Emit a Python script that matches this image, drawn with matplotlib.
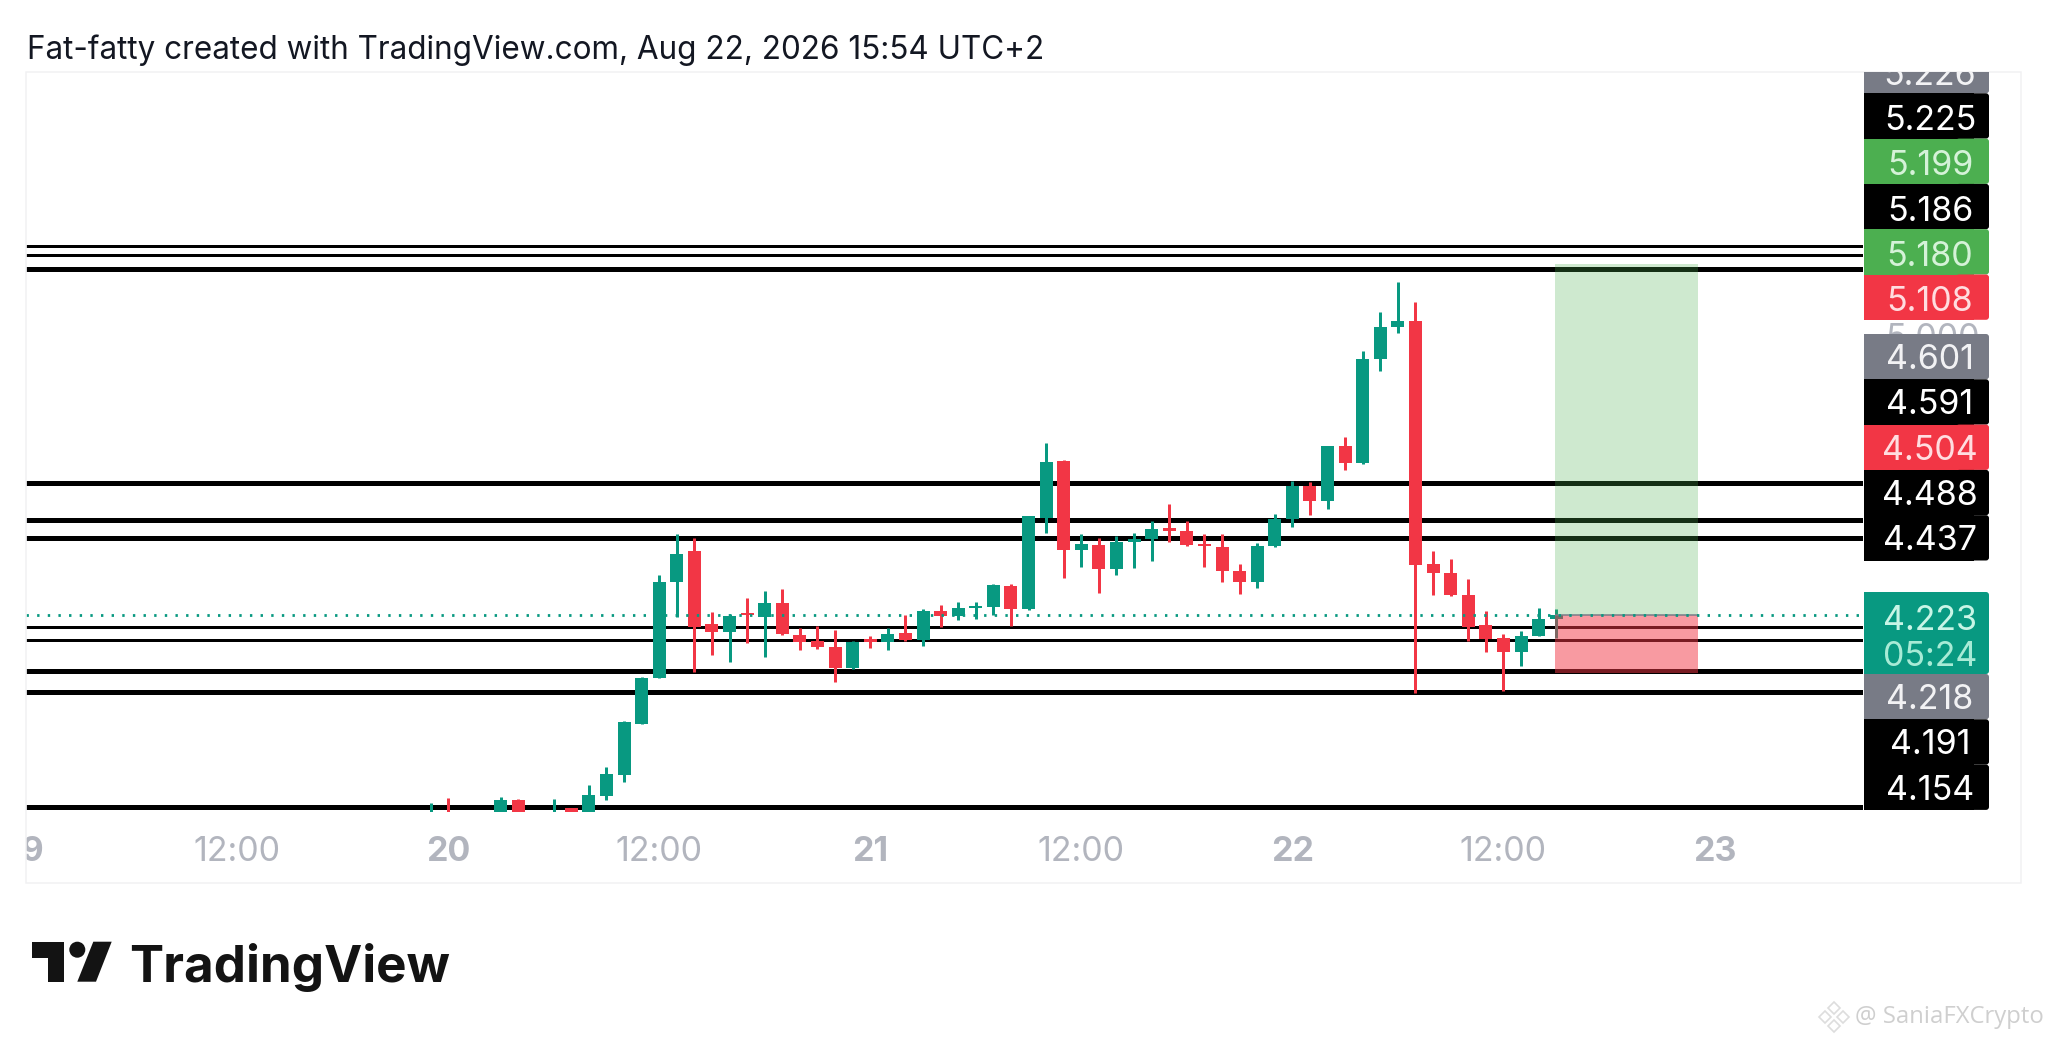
import numpy as np
import matplotlib
matplotlib.use("Agg")
import matplotlib.pyplot as plt
from matplotlib.patches import Rectangle, FancyBboxPatch, Polygon, Circle

plt.rcParams['font.family'] = ['Inter', 'DejaVu Sans']

W, H = 2048, 1043
UP = '#089981'; DOWN = '#F23645'; GREY = '#787B86'; AXIS = '#B2B5BE'

# ---- data: hourly candles, first bar at hour -1 (hour 0 = the 20th 00:00)
first_hour = -1
opens = [3.63, 3.64, 3.63, 3.635, 3.65, 3.708, 3.64, 3.64, 3.685, 3.66, 3.719, 3.779, 3.921,
         4.048, 4.314, 4.401, 4.197, 4.176, 4.229, 4.218, 4.255, 4.168, 4.150, 4.135, 4.075,
         4.156, 4.147, 4.172, 4.153, 4.233, 4.221, 4.243, 4.244, 4.303, 4.239, 4.493, 4.651,
         4.404, 4.417, 4.351, 4.425, 4.433, 4.464, 4.457, 4.421, 4.411, 4.346, 4.315, 4.415,
         4.489, 4.581, 4.541, 4.693, 4.646, 4.935, 5.024, 5.040, 4.364, 4.341, 4.280, 4.194,
         4.160, 4.121, 4.165, 4.213]
highs = [3.699, 3.713, 3.64, 3.64, 3.718, 3.710, 3.65, 3.710, 3.687, 3.750, 3.799, 3.929, 4.050,
         4.334, 4.448, 4.436, 4.232, 4.227, 4.271, 4.289, 4.294, 4.188, 4.192, 4.181, 4.151,
         4.164, 4.187, 4.223, 4.241, 4.252, 4.260, 4.258, 4.309, 4.308, 4.498, 4.700, 4.654,
         4.447, 4.438, 4.444, 4.452, 4.485, 4.531, 4.484, 4.447, 4.447, 4.365, 4.422, 4.504,
         4.595, 4.594, 4.694, 4.719, 4.958, 5.066, 5.148, 5.093, 4.401, 4.380, 4.322, 4.235,
         4.169, 4.178, 4.242, 4.241]
lows = [3.62, 3.62, 3.62, 3.62, 3.64, 3.64, 3.63, 3.63, 3.64, 3.65, 3.708, 3.759, 3.919,
        4.047, 4.218, 4.065, 4.111, 4.091, 4.144, 4.107, 4.168, 4.125, 4.129, 4.037, 4.073,
        4.132, 4.125, 4.152, 4.137, 4.190, 4.209, 4.212, 4.223, 4.193, 4.238, 4.452, 4.325,
        4.357, 4.285, 4.333, 4.353, 4.373, 4.427, 4.416, 4.357, 4.315, 4.281, 4.299, 4.411,
        4.468, 4.501, 4.518, 4.626, 4.642, 4.901, 5.006, 4.005, 4.278, 4.277, 4.150, 4.121,
        4.012, 4.082, 4.164, 4.160]
closes = [3.64, 3.63, 3.635, 3.63, 3.708, 3.65, 3.645, 3.65, 3.65, 3.722, 3.780, 3.925, 4.048,
          4.314, 4.394, 4.190, 4.176, 4.220, 4.222, 4.255, 4.169, 4.149, 4.135, 4.076, 4.149,
          4.149, 4.171, 4.153, 4.234, 4.220, 4.242, 4.249, 4.306, 4.239, 4.497, 4.648, 4.405,
          4.421, 4.351, 4.425, 4.433, 4.461, 4.456, 4.417, 4.414, 4.345, 4.315, 4.416, 4.490,
          4.581, 4.541, 4.693, 4.646, 4.934, 5.023, 5.040, 4.363, 4.340, 4.278, 4.190, 4.156,
          4.121, 4.164, 4.211, 4.223]

thin_levels = [5.249, 5.225, 4.191, 4.154]
thick_levels = [5.186, 4.591, 4.488, 4.437, 4.066, 4.010, 3.690]
last_price = 4.223
target_price = 5.199
stop_price = 4.063
position_hours = [62.93, 71.06]

x_tick_hours = [-24, -12, 0, 12, 24, 36, 48, 60, 72]
x_tick_labels = ['19', '12:00', '20', '12:00', '21', '12:00', '22', '12:00', '23']
y_tick_prices = [5.000]
y_tick_labels = ['5.000']

price_labels = ['5.226', '5.225', '5.199', '5.186', '5.180', '5.108']
price_colors = [GREY, 'black', '#4CAF50', 'black', '#4CAF50', DOWN]
lower_labels = ['4.601', '4.591', '4.504', '4.488', '4.437']
lower_colors = [GREY, 'black', DOWN, 'black', 'black']
bottom_labels = ['4.218', '4.191', '4.154']
bottom_colors = [GREY, 'black', 'black']
countdown = '05:24'

fig = plt.figure(figsize=(W / 100, H / 100), dpi=100, facecolor='white')
PX = 0.72

# ---- price pane
pane_l, pane_r, pane_t, pane_b = 26, 1863, 72, 812
ax = fig.add_axes([pane_l / W, 1 - pane_b / H, (pane_r - pane_l) / W, (pane_b - pane_t) / H])
ax.patch.set_alpha(0)
ax.set_xlim((pane_l - 448) / 17.59, (pane_r - 448) / 17.59)
ax.set_ylim(4.223 - 197 / 359.6, 4.223 + 543 / 359.6)
for s in ax.spines.values():
    s.set_visible(False)

ax.hlines(thin_levels, *ax.get_xlim(), colors='black', lw=3 * PX, zorder=2)
ax.hlines(thick_levels, *ax.get_xlim(), colors='black', lw=5 * PX, zorder=2)

hours = np.arange(len(opens)) + first_hour
o, h, l, c = map(np.array, (opens, highs, lows, closes))
cols = np.where(c >= o, UP, DOWN)
ax.vlines(hours, l, h, colors=cols, lw=3 * PX, zorder=3)
ax.bar(hours, np.abs(c - o), bottom=np.minimum(o, c), width=13 / 17.59, color=cols, linewidth=0, zorder=3)

ax.add_patch(Rectangle((position_hours[0], last_price), position_hours[1] - position_hours[0],
                       target_price - last_price, facecolor='#4CAF50', alpha=0.27, lw=0, zorder=4))
ax.add_patch(Rectangle((position_hours[0], stop_price), position_hours[1] - position_hours[0],
                       last_price - stop_price, facecolor=DOWN, alpha=0.5, lw=0, zorder=4))
ax.hlines([last_price], *position_hours, colors=GREY, lw=1.5 * PX, zorder=4)
ax.axhline(last_price, color=UP, lw=2.8 * PX, linestyle=(0, (0.85, 2.95)), dash_capstyle='butt', zorder=5)

ax.set_xticks(x_tick_hours, x_tick_labels)
ax.yaxis.tick_right()
ax.set_yticks(y_tick_prices, y_tick_labels)
ax.tick_params(axis='both', length=0, labelcolor=AXIS, labelsize=24.5)
ax.tick_params(axis='x', pad=17)
ax.tick_params(axis='y', pad=16)
for lab, txt in zip(ax.get_xticklabels(), x_tick_labels):
    if ':' not in txt:
        lab.set_fontweight('bold')

# ---- chrome drawn in pixel coordinates
ui = fig.add_axes([0, 0, 1, 1], zorder=5)
ui.set_xlim(0, W)
ui.set_ylim(H, 0)
ui.axis('off')
ui.patch.set_alpha(0)

clip = Rectangle((26, 72), 1995, 811, transform=ui.transData)
ax.get_xticklabels()[0].set_clip_path(clip)
ax.get_xticklabels()[0].set_clip_on(True)

ui.add_patch(Rectangle((26, 72), 1995, 811, fill=False, edgecolor='#F1F1F3', lw=1.5 * PX))

ui.text(27, 50.5, 'Fat-fatty created with TradingView.com, Aug 22, 2026 15:54 UTC+2',
        fontsize=22.65, color='#131722', va='center', ha='left')


def tag(top, bottom, color):
    x0, x1 = 1864, 1989
    round_part = ui.add_patch(FancyBboxPatch((x1 - 30, top + 3), 27, bottom - top - 6,
                                             boxstyle='round,pad=3', facecolor=color, edgecolor='none'))
    square_part = ui.add_patch(Rectangle((x0, top), x1 - x0 - 15, bottom - top, facecolor=color, edgecolor='none'))
    round_part.set_clip_path(clip)
    square_part.set_clip_path(clip)


def tag_text(y, s, color):
    t = ui.text(1930, y, s, color=color, fontsize=24.5, ha='center', va='center_baseline', clip_on=True)
    t.set_clip_path(clip)


def text_tint(color):
    return {'#4CAF50': '#D5F2D8', DOWN: '#FFDDE0', GREY: '#F2F2F4'}.get(color, 'white')


SLOT = 45.3
for i, (s, col) in enumerate(zip(price_labels, price_colors)):
    top = 48 + i * SLOT
    tag(top, top + SLOT, col)
    tag_text(top + SLOT / 2 + 1.5, s, text_tint(col))
for i, (s, col) in enumerate(zip(lower_labels, lower_colors)):
    top = 334 + i * SLOT
    tag(top, top + SLOT, col)
    tag_text(top + SLOT / 2, s, text_tint(col))
tag(592, 674, UP)
tag_text(618, f'{last_price:.3f}', '#C8F5E6')
tag_text(654, countdown, '#A8EBD6')
for i, (s, col) in enumerate(zip(bottom_labels, bottom_colors)):
    top = 674 + i * SLOT
    tag(top, top + SLOT, col)
    tag_text(top + SLOT / 2, s, text_tint(col))

# ---- TradingView logo
LOGO = '#131313'
ui.add_patch(Polygon([(32, 941.7), (64, 941.7), (64, 981.7), (48, 981.7), (48, 957.7), (32, 957.7)], color=LOGO, lw=0))
ui.add_patch(Circle((77.3, 949.7), 8, color=LOGO, lw=0))
ui.add_patch(Polygon([(93.3, 941.7), (111.7, 941.7), (96, 981.7), (77.3, 981.7)], color=LOGO, lw=0))
ui.text(129, 981.7, 'TradingView', fontsize=36.8, fontweight='bold', color=LOGO, va='baseline', ha='left')

# ---- watermark
ui.text(1855, 1017, '@ SaniaFXCrypto', family=['Open Sans', 'DejaVu Sans'], fontsize=17.2,
        color='#CFCFCF', va='center', ha='left')
ui.plot([1834, 1825, 1843, 1834], [1008, 1017, 1017, 1026], linestyle='none', marker='D', ms=6,
        mfc='none', mec='#DDDDDD', mew=1.2)

fig.savefig('out.png', dpi=100, facecolor='white')
